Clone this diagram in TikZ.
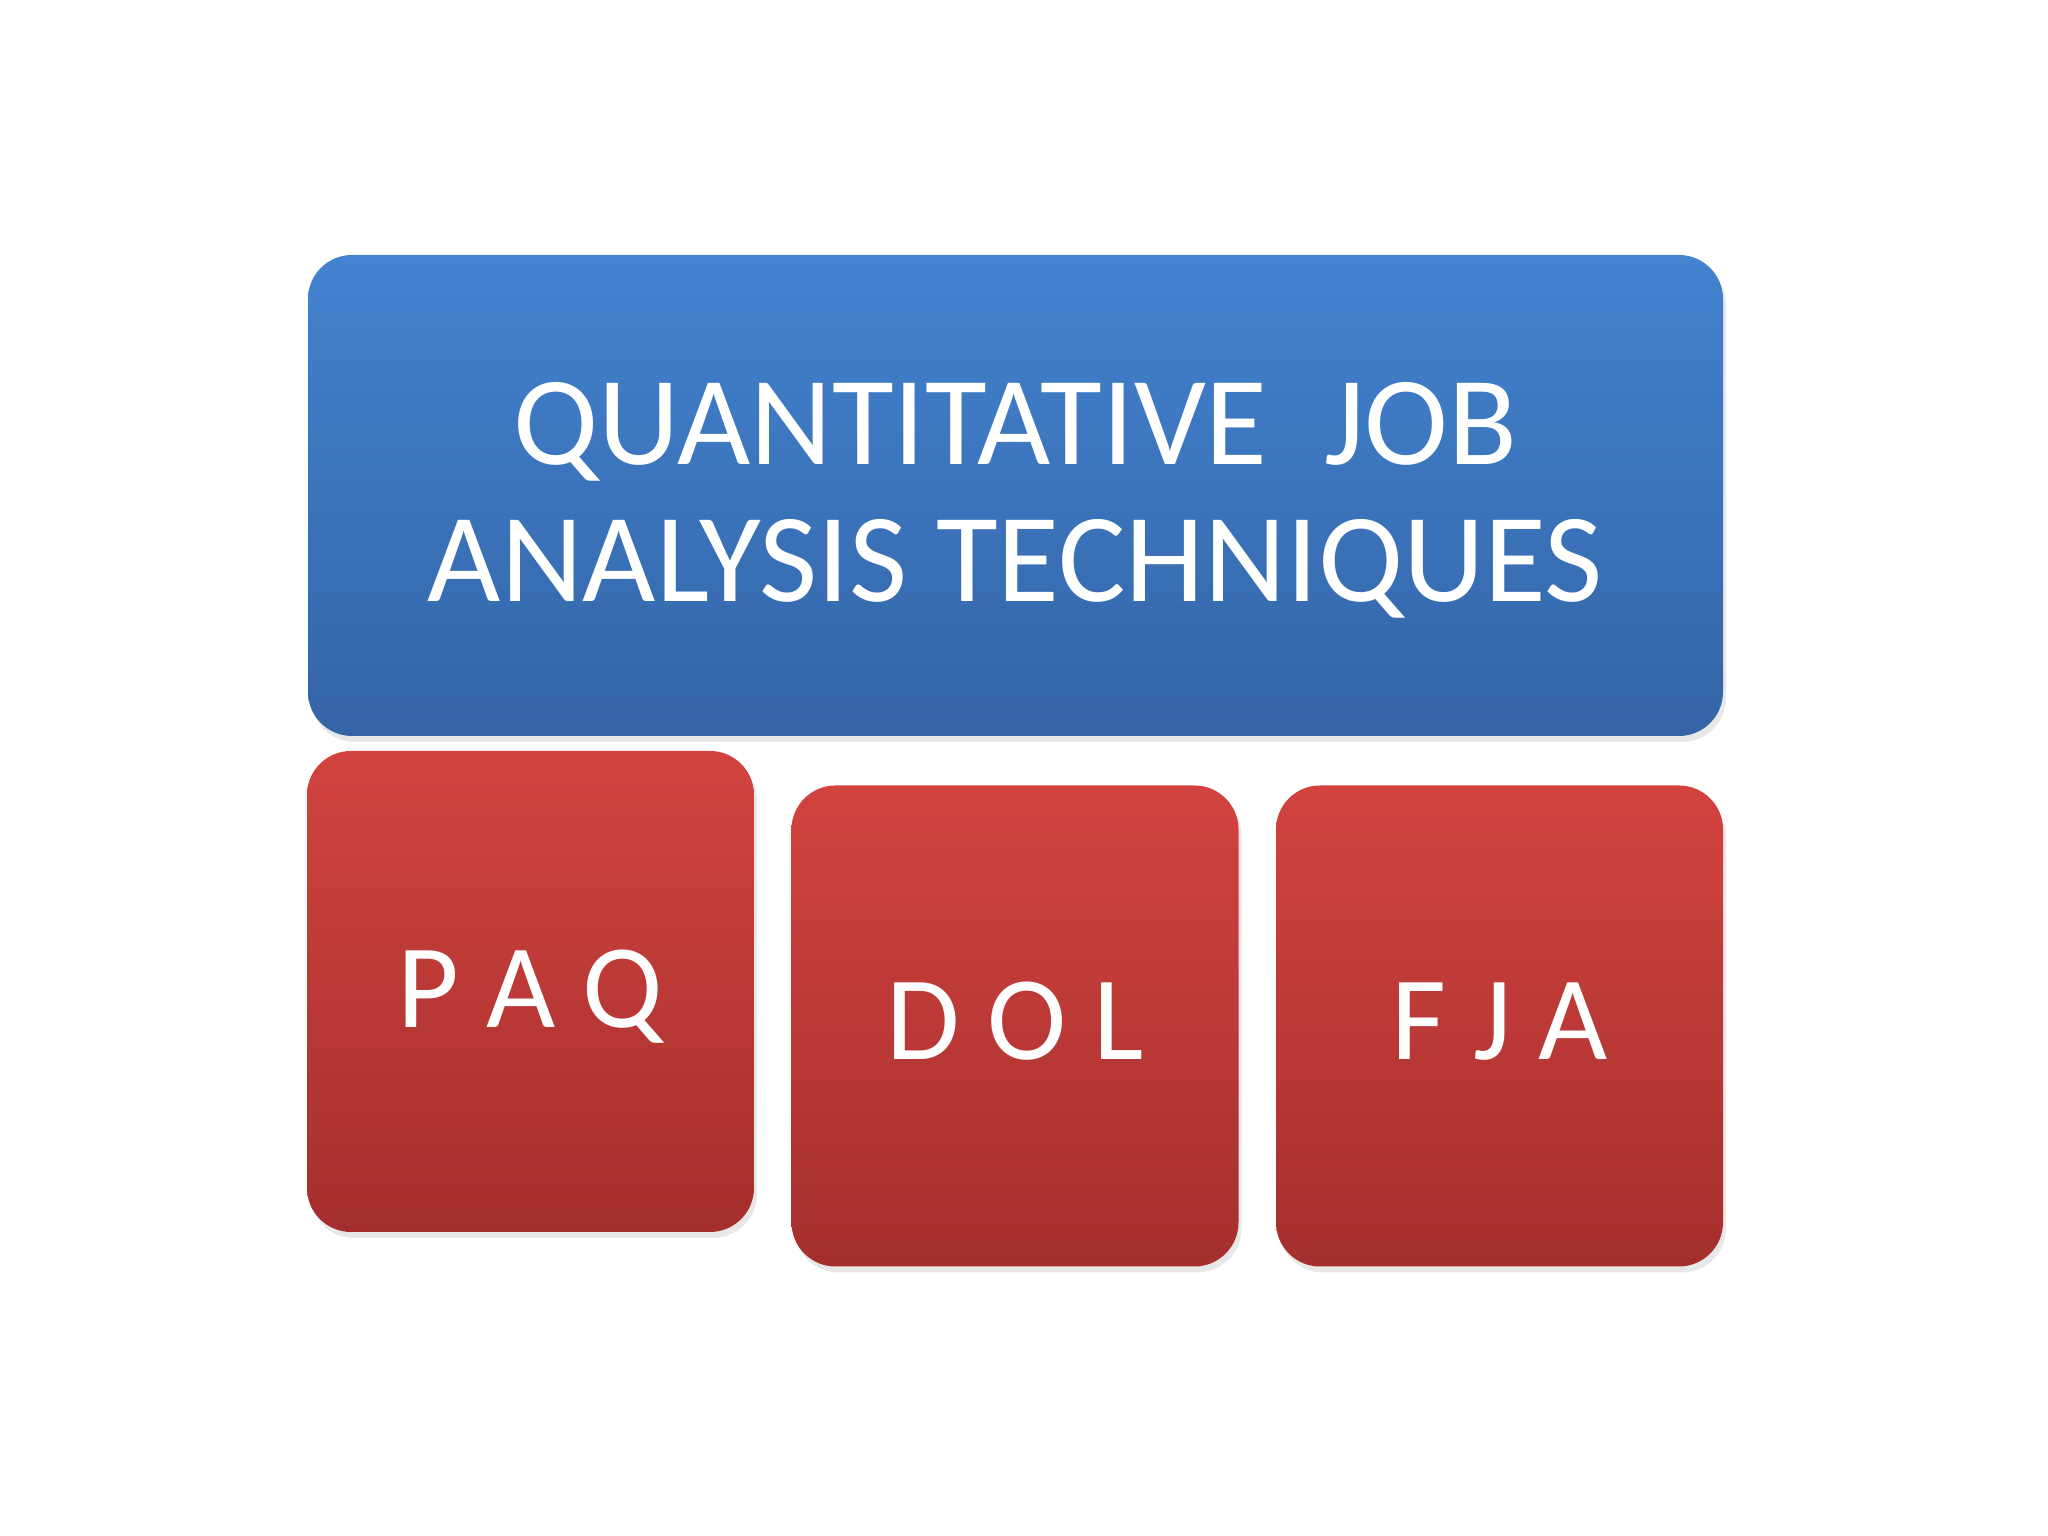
\documentclass[tikz,border=0pt]{standalone}
\usepackage{fontspec}
\setmainfont{Carlito}
\usepackage{xcolor}
\usetikzlibrary{shadows}
\definecolor{bluetop}{HTML}{4383D0}
\definecolor{bluebot}{HTML}{3364A6}
\definecolor{redtop}{HTML}{D2433F}
\definecolor{redbot}{HTML}{A42F2D}

\tikzset{
  tile/.style={rectangle, rounded corners=0.44cm,
    drop shadow={opacity=0.18, shadow xshift=0.03cm, shadow yshift=-0.06cm}},
  headtile/.style={tile, top color=bluetop, bottom color=bluebot,
    minimum width=14.15cm, minimum height=4.81cm},
  subtile/.style={tile, top color=redtop, bottom color=redbot,
    minimum width=4.47cm, minimum height=4.81cm},
  headtext/.style={text=white, align=center, font=\fontsize{36}{39}\selectfont},
  subtext/.style={text=white, font=\fontsize{34}{36}\selectfont}
}

\begin{document}
\begin{tikzpicture}
      \useasboundingbox[fill=white] (0,0) rectangle (20.48,15.36);

      % Draw heading box
      \node[headtile] (quant) at (10.155,10.405) {};
      \node[headtext] (quanttext) at ([yshift=-0.045cm]quant.center) {QUANTITATIVE\ \ JOB\\ANALYSIS TECHNIQUES};

      % Draw the three technique boxes
      \node[subtile] (paq) at (5.305,5.445) {};
      \node[subtile] (dol) at (10.15,5.10) {};
      \node[subtile] (fja) at (14.995,5.10) {};

      % Label the technique boxes
      \node[subtext] (paqtext) at ([yshift=-0.055cm]paq.center) {P A Q};
      \node[subtext] (doltext) at ([yshift=0.045cm]dol.center) {D O L};
      \node[subtext] (fjatext) at ([yshift=0.045cm]fja.center) {F J A};
\end{tikzpicture}
\end{document}
